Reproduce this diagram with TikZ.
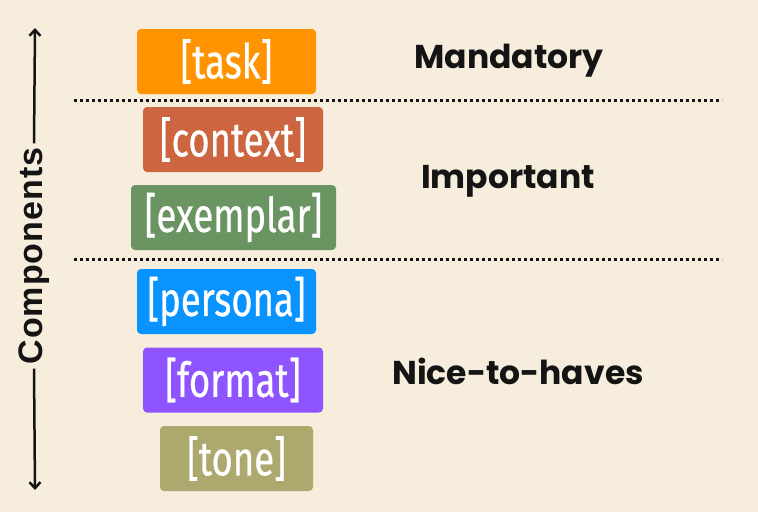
\documentclass[tikz,border=0pt]{standalone}
\usepackage{fontspec}
\setmainfont{Liberation Sans}
\newfontfamily\tagfont[FakeStretch=0.76,FakeBold=0.5]{Fira Sans}
\newfontfamily\headfont{Poppins}
\newfontfamily\axisfont[LetterSpace=3]{Liberation Sans}
\usetikzlibrary{backgrounds}
\usetikzlibrary{arrows.meta,positioning}

\definecolor{cream}{HTML}{F6EDDC}
\definecolor{inkc}{HTML}{141414}
\definecolor{taskc}{HTML}{FF9400}
\definecolor{contextc}{HTML}{CD6540}
\definecolor{exemplarc}{HTML}{6A9462}
\definecolor{personac}{HTML}{0893FF}
\definecolor{formatc}{HTML}{8E54FF}
\definecolor{tonec}{HTML}{ADA86D}

\begin{document}
\begin{tikzpicture}[
    x=1pt, y=-1pt,
    show background rectangle,
    tight background=0,
    background rectangle/.style={fill=cream},
    tagbox/.style={fill=#1, rounded corners=4pt, text=white,
        minimum height=65pt, inner sep=0pt,
        font=\tagfont\fontsize{48}{48}\selectfont},
    level/.style={text=inkc, font=\headfont\bfseries\fontsize{33}{33}\selectfont},
    sepline/.style={draw=inkc, line width=3pt, dash pattern=on 3pt off 3pt},
    axisline/.style={draw=inkc, line width=2.5pt,
        -{Straight Barb[length=6pt,width=11pt]}},
 ]
    \useasboundingbox (0,0) rectangle (758,512);

    % the six components
    \node[tagbox=taskc, minimum width=179pt] (task) at (226.5,61.5) {[task]};
    \node[tagbox=contextc, minimum width=180pt] (context) at (233,139.5) {[context]};
    \node[tagbox=exemplarc, minimum width=205pt] (exemplar) at (233.5,217.5) {[exemplar]};
    \node[tagbox=personac, minimum width=179pt] (persona) at (226.5,301.5) {[persona]};
    \node[tagbox=formatc, minimum width=180pt] (format) at (233,380) {[format]};
    \node[tagbox=tonec, minimum width=153pt] (tone) at (236.5,458.5) {[tone]};

    % levels
    \node[level] (mand) at (509,61) {Mandatory};
    \node[level] (imp) at (508,181) {Important};
    \node[level] (nice) at (518,371) {Nice-to-haves};

    \coordinate (s1l) at (74,100);
    \coordinate (s1r) at (722,100);
    \coordinate (s2l) at (74,259);
    \coordinate (s2r) at (722,259);
    \draw[sepline] (s1l) -- (s1r);
    \draw[sepline] (s2l) -- (s2r);

    % axis on the left
    \node[rotate=90, inner sep=4pt, text=inkc,
        font=\axisfont\bfseries\fontsize{34}{34}\selectfont] (comp) at (34,256) {Components};
    \coordinate (atop) at (35,28);
    \coordinate (abot) at (35,490);
    \draw[axisline] (comp.east) -- (atop);
    \draw[axisline] (comp.west) -- (abot);

\end{tikzpicture}
\end{document}
